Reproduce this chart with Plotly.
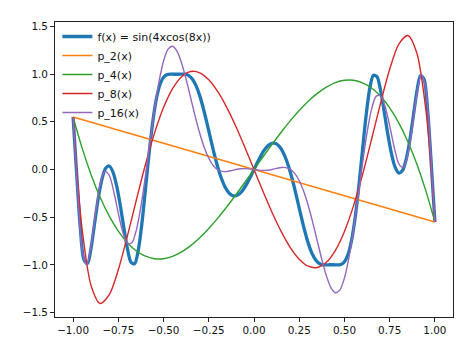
import plotly.graph_objects as go

# ---- data ----
x_f = [-1.00, -0.98, -0.96, -0.94, -0.92, -0.90, -0.88, -0.86, -0.84, -0.82,
       -0.80, -0.78, -0.76, -0.74, -0.72, -0.70, -0.68, -0.66, -0.64, -0.62,
       -0.60, -0.58, -0.56, -0.54, -0.52, -0.50, -0.48, -0.46, -0.44, -0.42,
       -0.40, -0.38, -0.36, -0.34, -0.32, -0.30, -0.28, -0.26, -0.24, -0.22,
       -0.20, -0.18, -0.16, -0.14, -0.12, -0.10, -0.08, -0.06, -0.04, -0.02,
       0.00, 0.02, 0.04, 0.06, 0.08, 0.10, 0.12, 0.14, 0.16, 0.18,
       0.20, 0.22, 0.24, 0.26, 0.28, 0.30, 0.32, 0.34, 0.36, 0.38,
       0.40, 0.42, 0.44, 0.46, 0.48, 0.50, 0.52, 0.54, 0.56, 0.58,
       0.60, 0.62, 0.64, 0.66, 0.68, 0.70, 0.72, 0.74, 0.76, 0.78,
       0.80, 0.82, 0.84, 0.86, 0.88, 0.90, 0.92, 0.94, 0.96, 0.98, 1.00]
y_f = [0.5497, -0.0549, -0.6168, -0.9449, -0.9849, -0.8143, -0.5492, -0.2907, -0.0970, 0.0135,
       0.0366, -0.0245, -0.1635, -0.3659, -0.6026, -0.8249, -0.9714, -0.9884, -0.8493, -0.5707,
       -0.2085, 0.1669, 0.4928, 0.7368, 0.8871, 0.9655, 0.9949, 1.0000, 0.9979, 0.9976,
       0.9996, 0.9982, 0.9839, 0.9457, 0.8762, 0.7738, 0.6393, 0.4853, 0.3226, 0.1648,
       0.0234, -0.0938, -0.1825, -0.2416, -0.2718, -0.2751, -0.2539, -0.2113, -0.1513, -0.0789,
       0.0, 0.0789, 0.1513, 0.2113, 0.2539, 0.2751, 0.2718, 0.2416, 0.1825, 0.0938,
       -0.0234, -0.1648, -0.3226, -0.4853, -0.6393, -0.7738, -0.8762, -0.9457, -0.9839, -0.9982,
       -0.9996, -0.9976, -0.9979, -1.0000, -0.9949, -0.9655, -0.8871, -0.7368, -0.4928, -0.1669,
       0.2085, 0.5707, 0.8493, 0.9884, 0.9714, 0.8249, 0.6026, 0.3659, 0.1635, 0.0245,
       -0.0366, -0.0135, 0.0970, 0.2907, 0.5492, 0.8143, 0.9849, 0.9449, 0.6168, 0.0549, -0.5497]

x_p2 = [-1.0, 0.0, 1.0]
y_p2 = [0.5497, 0.0, -0.5497]

x_p4 = [-1.00, -0.95, -0.90, -0.85, -0.80, -0.75, -0.70, -0.65, -0.60, -0.55,
        -0.50, -0.45, -0.40, -0.35, -0.30, -0.25, -0.20, -0.15, -0.10, -0.05,
        0.00, 0.05, 0.10, 0.15, 0.20, 0.25, 0.30, 0.35, 0.40, 0.45,
        0.50, 0.55, 0.60, 0.65, 0.70, 0.75, 0.80, 0.85, 0.90, 0.95, 1.00]
y_p4 = [0.5497, 0.2235, -0.0567, -0.2933, -0.4889, -0.6458, -0.7664, -0.8531, -0.9084, -0.9347,
        -0.9343, -0.9098, -0.8636, -0.7979, -0.7154, -0.6183, -0.5092, -0.3903, -0.2643, -0.1333,
        0.0, 0.1333, 0.2643, 0.3903, 0.5092, 0.6183, 0.7154, 0.7979, 0.8636, 0.9098,
        0.9343, 0.9347, 0.9084, 0.8531, 0.7664, 0.6458, 0.4889, 0.2933, 0.0567, -0.2235, -0.5497]

x_p8 = [-1.00, -0.975, -0.95, -0.90, -0.85, -0.80, -0.75, -0.70, -0.65, -0.60, -0.55,
        -0.50, -0.45, -0.40, -0.35, -0.30, -0.25, -0.20, -0.15, -0.10, -0.05,
        0.00, 0.05, 0.10, 0.15, 0.20, 0.25, 0.30, 0.35, 0.40, 0.45,
        0.50, 0.55, 0.60, 0.65, 0.70, 0.75, 0.80, 0.85, 0.90, 0.95, 0.975, 1.00]
y_p8 = [0.5497, -0.1228, -0.6255, -1.2198, -1.4034, -1.3117, -1.0499, -0.6983, -0.3165, 0.0528, 0.3806,
        0.6486, 0.8471, 0.9725, 1.0261, 1.0127, 0.9393, 0.8146, 0.6479, 0.4497, 0.2302,
        0.0, -0.2302, -0.4497, -0.6479, -0.8146, -0.9393, -1.0127, -1.0261, -0.9725, -0.8471,
        -0.6486, -0.3806, -0.0528, 0.3165, 0.6983, 1.0499, 1.3117, 1.4034, 1.2198, 0.6255, 0.1228, -0.5497]

x_p16 = [-1.000, -0.975, -0.950, -0.925, -0.900, -0.875, -0.850, -0.825, -0.800, -0.775,
         -0.750, -0.725, -0.700, -0.675, -0.650, -0.625, -0.600, -0.575, -0.550, -0.525,
         -0.500, -0.475, -0.450, -0.425, -0.400, -0.375, -0.350, -0.325, -0.300, -0.275,
         -0.250, -0.225, -0.200, -0.175, -0.150, -0.125, -0.100, -0.075, -0.050, -0.025,
         0.000, 0.025, 0.050, 0.075, 0.100, 0.125, 0.150, 0.175, 0.200, 0.225,
         0.250, 0.275, 0.300, 0.325, 0.350, 0.375, 0.400, 0.425, 0.450, 0.475,
         0.500, 0.525, 0.550, 0.575, 0.600, 0.625, 0.650, 0.675, 0.700, 0.725,
         0.750, 0.775, 0.800, 0.825, 0.850, 0.875, 0.900, 0.925, 0.950, 0.975, 1.000]
y_p16 = [0.5497, -0.2235, -0.8464, -0.9992, -0.7887, -0.4414, -0.1529, -0.0205, -0.0626, -0.2335,
         -0.4586, -0.6577, -0.7717, -0.7660, -0.6317, -0.3872, -0.0669, 0.2860, 0.6280, 0.9206,
         1.1365, 1.2609, 1.2911, 1.2362, 1.1129, 0.9434, 0.7507, 0.5566, 0.3791, 0.2305,
         0.1175, 0.0410, -0.0026, -0.0202, -0.0204, -0.0114, -0.0006, 0.0071, 0.0093, 0.0063,
         0.0, -0.0063, -0.0093, -0.0071, 0.0006, 0.0114, 0.0204, 0.0202, 0.0026, -0.0410,
         -0.1175, -0.2305, -0.3791, -0.5566, -0.7507, -0.9434, -1.1129, -1.2362, -1.2911, -1.2609,
         -1.1365, -0.9206, -0.6280, -0.2860, 0.0669, 0.3872, 0.6317, 0.7660, 0.7717, 0.6577,
         0.4586, 0.2335, 0.0626, 0.0205, 0.1529, 0.4414, 0.7887, 0.9992, 0.8464, 0.2235, -0.5497]

x_tickvals = [-1.0, -0.75, -0.5, -0.25, 0.0, 0.25, 0.5, 0.75, 1.0]
x_ticktext = ["\u22121.00", "\u22120.75", "\u22120.50", "\u22120.25", "0.00", "0.25", "0.50", "0.75", "1.00"]
y_tickvals = [-1.5, -1.0, -0.5, 0.0, 0.5, 1.0, 1.5]
y_ticktext = ["\u22121.5", "\u22121.0", "\u22120.5", "0.0", "0.5", "1.0", "1.5"]

series = [
    ("f(x) = sin(4xcos(8x))", x_f, y_f, "#1f77b4", 3.3),
    ("p_2(x)", x_p2, y_p2, "#ff7f0e", 1.4),
    ("p_4(x)", x_p4, y_p4, "#2ca02c", 1.4),
    ("p_8(x)", x_p8, y_p8, "#d62728", 1.4),
    ("p_16(x)", x_p16, y_p16, "#9467bd", 1.4),
]

fig = go.Figure()
for name, xs, ys, color, w in series:
    fig.add_trace(go.Scatter(x=xs, y=ys, mode="lines", name=name,
                             line=dict(color=color, width=w, shape="spline", smoothing=0.8)))

axis_common = dict(showgrid=False, zeroline=False, showline=True, mirror=True,
                   linecolor="#222", linewidth=1, ticks="outside", ticklen=4,
                   tickwidth=1, tickcolor="#222", tickfont=dict(size=10.4, color="#111"))

# page body has an 8px default margin, so the figure is sized to fit the window
fig.update_layout(
    width=466, height=348,
    margin=dict(l=47, r=21, t=12, b=39),
    paper_bgcolor="white", plot_bgcolor="white",
    font=dict(family="DejaVu Sans", size=10.4, color="#111"),
    showlegend=True,
    legend=dict(x=0.006, y=1.0, xanchor="left", yanchor="top",
                bgcolor="rgba(255,255,255,0)", borderwidth=0,
                font=dict(size=11, color="#111"), itemwidth=30, tracegroupgap=0),
    xaxis=dict(range=[-1.1, 1.1], tickmode="array", tickvals=x_tickvals, ticktext=x_ticktext, **axis_common),
    yaxis=dict(range=[-1.545, 1.545], tickmode="array", tickvals=y_tickvals, ticktext=y_ticktext, **axis_common),
)

fig.write_html("out.html")
